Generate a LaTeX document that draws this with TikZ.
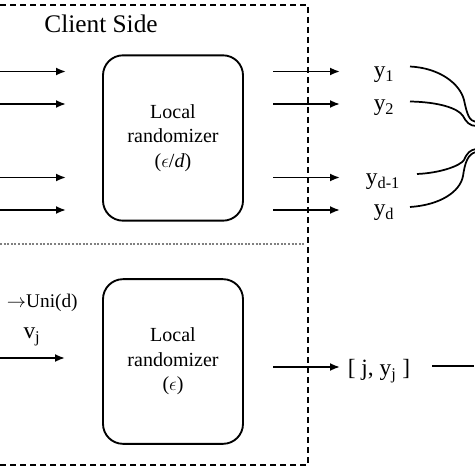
\documentclass[tikz,border=0pt]{standalone}
\usepackage{fontspec}
\setmainfont{Liberation Serif}
\usepackage{amsmath}
\usetikzlibrary{arrows.meta}

\begin{document}
\begin{tikzpicture}[x=0.75pt,y=0.75pt,yscale=-1,xscale=1,
  line width=1.4pt,
  arr/.style={-{Latex[length=7.5pt,width=6pt]}},
  frame/.style={line width=1.4pt,dash pattern={on 4.5pt off 3pt}},
  randbox/.style={draw,rounded corners=15pt,minimum width=105pt,minimum height=124pt,inner sep=0pt,align=center,font=\fontsize{15}{18.4}\selectfont},
  lbl/.style={inner sep=0.75pt,font=\fontsize{17.5}{20}\selectfont},
  brace/.style={line width=1.3pt}]
\useasboundingbox (0,0) rectangle (474,474);

%Client side frame
\draw [frame] (0,5) -- (308,5) -- (308,465) -- (0,465) ;
\draw [gray,line width=0.8pt,dash pattern={on 1.5pt off 1.2pt}] (0,244) -- (306,244) ;
% Text Node
\node (client) at (101,24) [inner sep=0.75pt,font=\fontsize{19}{22}\selectfont] {Client Side};

%Shape: Rounded Rect (upper)
\node (randA) at (173,138) [randbox] {Local\\randomizer\\($\epsilon$/\textit{d})};
%Shape: Rounded Rect (lower)
\node (randB) at (173,361.5) [randbox,minimum height=123.5pt] {Local\\randomizer\\($\epsilon$)};

%Straight Lines (inputs, upper)
\coordinate (inA1) at (0,71.5);   \coordinate (inB1) at (66,71.5);
\coordinate (inA2) at (0,104);    \coordinate (inB2) at (66,104);
\coordinate (inA3) at (0,177.5);  \coordinate (inB3) at (66,177.5);
\coordinate (inA4) at (0,210);    \coordinate (inB4) at (66,210);
\draw [arr] (inA1) -- (inB1) ;
\draw [arr] (inA2) -- (inB2) ;
\draw [arr] (inA3) -- (inB3) ;
\draw [arr] (inA4) -- (inB4) ;

%Straight Lines (outputs, upper)
\coordinate (outA1) at (273,71.5);   \coordinate (outB1) at (340,71.5);
\coordinate (outA2) at (273,104);    \coordinate (outB2) at (340,104);
\coordinate (outA3) at (273,177.5);  \coordinate (outB3) at (340,177.5);
\coordinate (outA4) at (273,210);    \coordinate (outB4) at (340,210);
\draw [arr] (outA1) -- (outB1) ;
\draw [arr] (outA2) -- (outB2) ;
\draw [arr] (outA3) -- (outB3) ;
\draw [arr] (outA4) -- (outB4) ;

% Text Node
\node (y1) at (384,75) [lbl] {y\textsubscript{1}};
\node (y2) at (384,108) [lbl] {y\textsubscript{2}};
\node (yd1) at (383,182) [lbl] {y\textsubscript{d-1}};
\node (yd) at (384,213) [lbl] {y\textsubscript{d}};

%Curve Lines (merging)
\coordinate (cA1) at (410,66.5);
\coordinate (cA2) at (410,101.5);
\coordinate (cA3) at (417,174);
\coordinate (cA4) at (410,207);
\draw [brace] (cA1) .. controls (440,68) and (460,84) .. (464,100) .. controls (467,114) and (469,121) .. (476,122) ;
\draw [brace] (cA2) .. controls (438,102) and (458,108) .. (463,116) .. controls (466,122) and (470,126) .. (476,126) ;
\draw [brace] (cA3) .. controls (440,173) and (460,166) .. (464,160) .. controls (467,153) and (470,150) .. (476,149) ;
\draw [brace] (cA4) .. controls (440,205) and (460,192) .. (463,176) .. controls (465,162) and (468,154) .. (476,152) ;

% Text Node
\node (uni) at (5,303) [anchor=west,inner sep=0.75pt,font=\fontsize{14.5}{17}\selectfont] {$\rightarrow$Uni(d)};
% Text Node
\node (vj) at (32,337) [lbl] {v\textsubscript{j}};

%Straight Lines (lower)
\coordinate (inC) at (0,358);  \coordinate (inD) at (65,358);
\draw [arr] (inC) -- (inD) ;
\coordinate (outC) at (273,367);  \coordinate (outD) at (340,367);
\draw [arr] (outC) -- (outD) ;
% Text Node
\node (pair) at (379,371) [lbl] {[ j, y\textsubscript{j} ]};
\coordinate (pairout) at (432,366);
\coordinate (tail) at (474,366);
\draw (pairout) -- (tail) ;

\end{tikzpicture}
\end{document}
